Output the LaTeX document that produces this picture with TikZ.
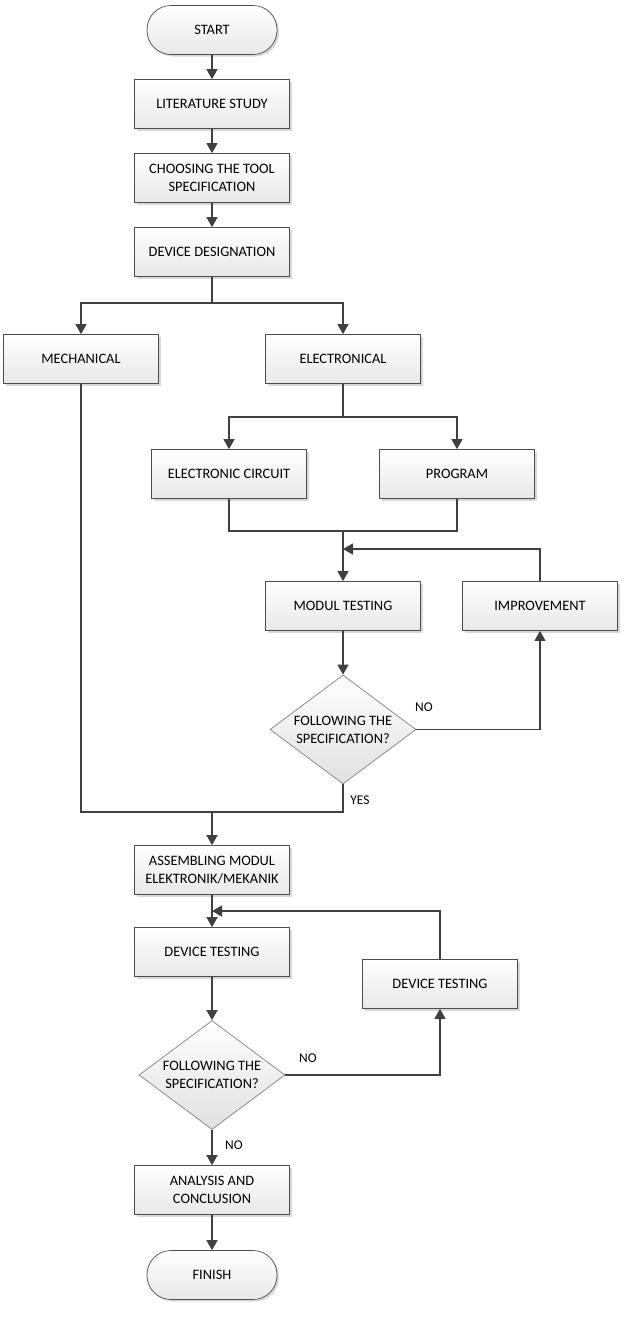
\documentclass[tikz,border=0pt]{standalone}
\usepackage{fontspec}
\setmainfont{Carlito}
\usetikzlibrary{arrows.meta,shapes.geometric,shadows}
\begin{document}
\begin{tikzpicture}[x=1pt,y=-1pt,
  font=\fontsize{14.4}{18}\selectfont,
  box/.style={draw=black!70, line width=0.7pt, top color=white, bottom color=black!9,
    minimum width=155pt, minimum height=49pt, align=center, inner sep=2pt,
    drop shadow={shadow xshift=2pt, shadow yshift=-2pt, fill=black!30, opacity=0.5}},
  term/.style={box, minimum width=130pt, rounded corners=24pt},
  decision/.style={shape=diamond, draw=black!50, line width=0.7pt, top color=white, bottom color=black!12,
    minimum width=146pt, minimum height=109pt, aspect=1.34, inner sep=0pt, align=center},
  conn/.style={draw=black!75, line width=1.4pt},
  arr/.style={conn, -{Triangle[length=10pt,width=11pt]}},
  lbl/.style={font=\fontsize{13.4}{16}\selectfont, inner sep=0pt}
]
\useasboundingbox (0,0) rectangle (634,1320);
\fill[white] (0,0) rectangle (634,1320);

\node[term] (start) at (212,30) {START};
\node[box] (lit) at (212,104) {LITERATURE STUDY};
\node[box] (choose) at (212,178) {CHOOSING THE TOOL\\SPECIFICATION};
\node[box] (design) at (212,252) {DEVICE DESIGNATION};
\node[box] (mech) at (81,359) {MECHANICAL};
\node[box] (elec) at (343,359) {ELECTRONICAL};
\node[box] (circ) at (229,474) {ELECTRONIC CIRCUIT};
\node[box] (prog) at (457,474) {PROGRAM};
\node[box] (modul) at (343,606) {MODUL TESTING};
\node[box] (impr) at (540,606) {IMPROVEMENT};
\node[decision] (dec1) at (343,729.5) {FOLLOWING THE\\SPECIFICATION?};
\node[box] (assem) at (212,870) {ASSEMBLING MODUL\\ELEKTRONIK/MEKANIK};
\node[box] (test1) at (212,952) {DEVICE TESTING};
\node[box] (test2) at (440,984) {DEVICE TESTING};
\node[decision] (dec2) at (212,1075) {FOLLOWING THE\\SPECIFICATION?};
\node[box] (anal) at (212,1190) {ANALYSIS AND\\CONCLUSION};
\node[term] (finish) at (212,1275) {FINISH};

\coordinate (s1) at (212,303);
\coordinate (s2) at (343,417);
\coordinate (m1) at (343,531);
\coordinate (j1) at (343,549);
\coordinate (m2) at (212,812);
\coordinate (j2) at (212,911);

\draw[arr] (start) -- (lit);
\draw[arr] (lit) -- (choose);
\draw[arr] (choose) -- (design);
\draw[conn] (design.south) -- (s1);
\draw[arr] (s1) -| (mech.north);
\draw[arr] (s1) -| (elec.north);
\draw[conn] (elec.south) -- (s2);
\draw[arr] (s2) -| (circ.north);
\draw[arr] (s2) -| (prog.north);
\draw[conn] (circ.south) |- (m1);
\draw[conn] (prog.south) |- (m1);
\draw[arr] (m1) -- (modul.north);
\draw[arr] (impr.north) |- (j1);
\draw[arr] (modul) -- (dec1);
\draw[arr] (dec1.east) -| (impr.south);
\draw[conn] (mech.south) |- (m2);
\draw[conn] (dec1.south) |- (m2);
\draw[arr] (m2) -- (assem.north);
\draw[arr] (assem) -- (test1);
\draw[arr] (test2.north) |- (j2);
\draw[arr] (test1) -- (dec2);
\draw[arr] (dec2.east) -| (test2.south);
\draw[arr] (dec2) -- (anal);
\draw[arr] (anal) -- (finish);

\node[lbl] (no1) at (424,707) {NO};
\node[lbl] (yes1) at (360,800) {YES};
\node[lbl] (no2) at (308,1058) {NO};
\node[lbl] (no3) at (234,1145) {NO};
\end{tikzpicture}
\end{document}
